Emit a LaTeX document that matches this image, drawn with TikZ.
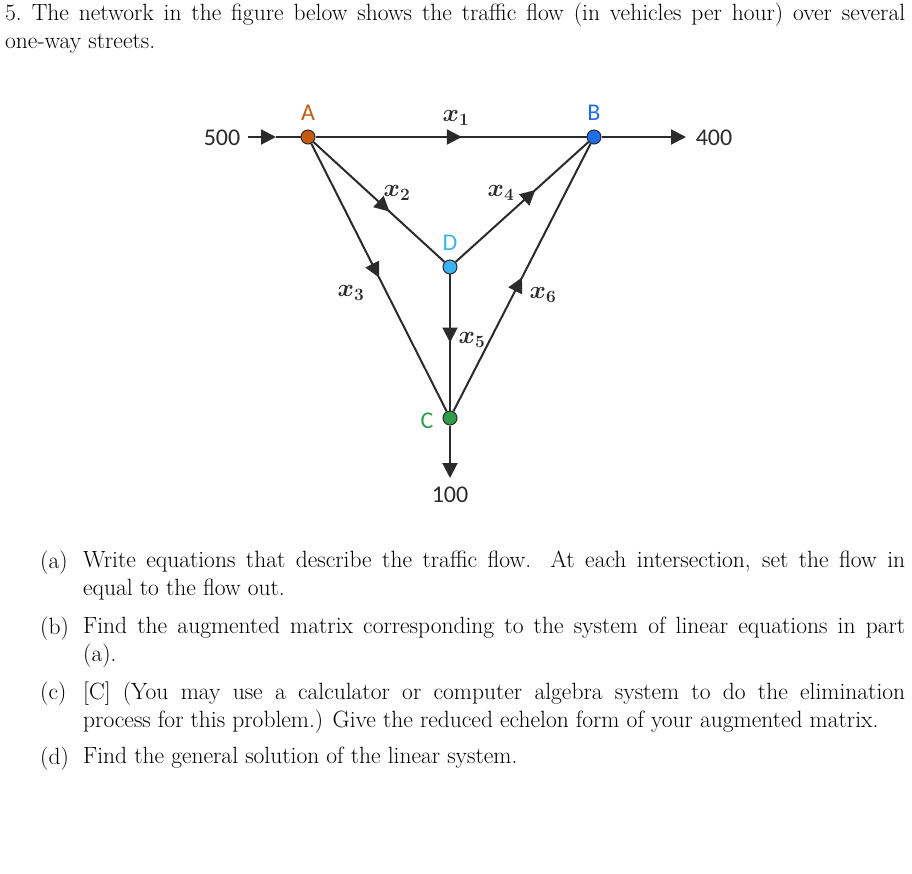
\documentclass[tikz,border=0pt]{standalone}
\usepackage{fontspec}
\newfontfamily\lab{Carlito}
\usetikzlibrary{arrows.meta,decorations.markings}
\definecolor{edge}{HTML}{2B2B2B}
\definecolor{cA}{HTML}{C55A11}
\definecolor{cB}{HTML}{1F6FE8}
\definecolor{cD}{HTML}{3BB3F0}
\definecolor{cC}{HTML}{2E9E4A}
\tikzset{
  street/.style={draw=edge,line width=2pt,postaction={decorate},
    decoration={markings,mark=at position #1 with {\arrow{Triangle[length=15pt,width=15pt]}}}},
  street/.default=0.5,
  inter/.style={circle,draw=edge,line width=1pt,minimum size=14pt,inner sep=0pt},
  num/.style={font=\lab\fontsize{24}{26}\selectfont,text=edge},
  xl/.style={font=\fontsize{25}{26}\selectfont\boldmath,text=edge},
  nl/.style={font=\lab\fontsize{24}{26}\selectfont},
  para/.style={anchor=north west,align=justify,font=\fontsize{23.5}{28}\selectfont,inner sep=0pt}
}
\begin{document}
\begin{tikzpicture}[x=1pt,y=-1pt]
\useasboundingbox (0,0) rectangle (912,874);
\node[para,text width=900pt] (t0) at (5,3) {5.\ The network in the figure below shows the traffic flow (in vehicles per hour) over several one-way streets.};
\node[inter,fill=cA] (A) at (308,137) {};
\node[inter,fill=cB] (B) at (594,137) {};
\node[inter,fill=cD] (D) at (450,267) {};
\node[inter,fill=cC] (C) at (450,418) {};
\coordinate (in) at (248,137);
\coordinate (out) at (686,137);
\coordinate (down) at (450,478);
\draw[draw=edge,line width=2pt,-{Triangle[length=15pt,width=15pt]}] (in) -- (276,137);
\draw[draw=edge,line width=2pt] (276,137) -- (A);
\draw[draw=edge,line width=2pt,-{Triangle[length=15pt,width=15pt]}] (B) -- (out);
\draw[draw=edge,line width=2pt,-{Triangle[length=15pt,width=15pt]}] (C) -- (down);
\draw[street=0.54] (A) -- (B);
\draw[street=0.58] (A) -- (D);
\draw[street=0.6] (D) -- (B);
\draw[street=0.5] (A) -- (C);
\draw[street=0.5] (D) -- (C);
\draw[street=0.5] (C) -- (B);
\node[num] (n500) at (222,138) {500};
\node[num] (n400) at (714,138) {400};
\node[num] (n100) at (450,495) {100};
\node[nl,text=cA] (lA) at (308,113) {A};
\node[nl,text=cB] (lB) at (594,113) {B};
\node[nl,text=cD] (lD) at (450,243) {D};
\node[nl,text=cC] (lC) at (427,421) {C};
\node[xl] (x1) at (456,118) {$x_1$};
\node[xl] (x2) at (397,193) {$x_2$};
\node[xl] (x4) at (501,193) {$x_4$};
\node[xl] (x3) at (351,293) {$x_3$};
\node[xl] (x6) at (543,295) {$x_6$};
\node[xl] (x5) at (472,340) {$x_5$};
\node[para] (a) at (40,551) {(a)};
\node[para,text width=822pt] (ta) at (83,551) {Write equations that describe the traffic flow. At each intersection, set the flow in\linebreak equal to the flow out.};
\node[para] (b) at (40,617) {(b)};
\node[para,text width=822pt] (tb) at (83,617) {Find the augmented matrix corresponding to the system of linear equations in part\linebreak (a).};
\node[para] (c) at (40,682) {(c)};
\node[para,text width=822pt] (tc) at (83,682) {[C] (You may use a calculator or computer algebra system to do the elimination\linebreak process for this problem.) Give the reduced echelon form of your augmented matrix.};
\node[para] (d) at (40,747) {(d)};
\node[para,text width=822pt] (td) at (83,747) {Find the general solution of the linear system.};
\node[font=\fontsize{19.5}{24}\selectfont] (pg) at (440,884) {2};
\end{tikzpicture}
\end{document}
